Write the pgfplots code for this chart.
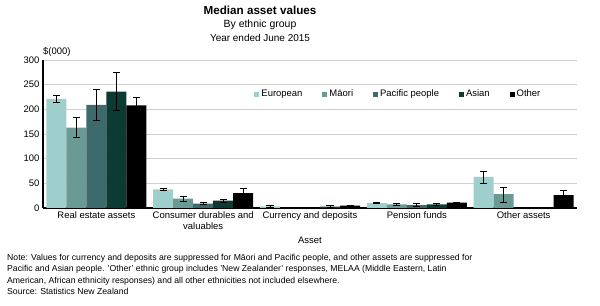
\documentclass[border=0pt]{standalone}
\usepackage{pgfplots}
\pgfplotsset{compat=1.18}
\usepackage{fontspec}
\setmainfont{Liberation Sans}

\definecolor{european}{HTML}{9FCFCC}
\definecolor{maori}{HTML}{6B9A95}
\definecolor{pacific}{HTML}{3D6B6B}
\definecolor{asian}{HTML}{0B3B33}
\definecolor{otherc}{HTML}{000000}
\definecolor{gridc}{HTML}{D0D0D0}

\begin{document}
\begin{tikzpicture}
\path (0,0) rectangle (600bp,306bp);

% titles
\node[font=\bfseries\fontsize{11.7}{12}\selectfont] at (260bp,296bp) {Median asset values};
\node[font=\fontsize{10.5}{11}\selectfont] at (260bp,281bp) {By ethnic group};
\node[font=\fontsize{10}{11}\selectfont] at (260bp,268bp) {Year ended June 2015};
\node[anchor=west, inner sep=0pt, font=\fontsize{9.5}{10}\selectfont] at (43bp,254bp) {\$(000)};

\begin{axis}[
    at={(43bp,98bp)}, anchor=south west,
    scale only axis, width=534bp, height=148bp,
    xmin=-0.5, xmax=4.5, ymin=0, ymax=300,
    ytick={0,50,...,300},
    xtick={0,...,4},
    xticklabels={Real estate assets, {Consumer durables and\\valuables}, Currency and deposits, Pension funds, Other assets},
    x tick label style={align=center, font=\fontsize{9.5}{11}\selectfont},
    y tick label style={font=\fontsize{9.5}{10}\selectfont},
    /pgf/number format/assume math mode=true,
    major tick length=0pt,
    axis lines*=left,
    axis line style={line width=1.5bp, black},
    ymajorgrids, grid style={gridc, line width=0.6bp},
    ybar=0pt, bar width=20bp,
    every axis plot/.append style={draw=none},
    error bars/y dir=both, error bars/y explicit,
    error bars/error bar style={black, line width=0.8bp},
    error bars/error mark options={rotate=90, mark size=3.5bp, black, line width=0.8bp},
    legend columns=5,
    legend style={draw=none, fill=none, at={(0.39,0.77)}, anchor=west,
        font=\fontsize{9.5}{10}\selectfont,
        /tikz/every even column/.append style={column sep=18bp}},
    legend image code/.code={\fill[#1] (0bp,-2.5bp) rectangle (5bp,2.5bp);},
]
\addplot[fill=european] coordinates {
    (0,221) += (0,8) -= (0,7)
    (1,38) += (0,2.5) -= (0,2.5)
    (2,3.5) += (0,1.3) -= (0,1.3)
    (3,10) += (0,1) -= (0,1)
    (4,63) += (0,12) -= (0,13)
};
\addplot[fill=maori] coordinates {
    (0,163) += (0,20) -= (0,20.5)
    (1,19) += (0,4) -= (0,5)
    (3,7.5) += (0,2) -= (0,2)
    (4,28) += (0,14) -= (0,16)
};
\addplot[fill=pacific] coordinates {
    (0,209) += (0,31) -= (0,32)
    (1,9) += (0,2) -= (0,2)
    (3,6) += (0,2.5) -= (0,2)
};
\addplot[fill=asian] coordinates {
    (0,236) += (0,39) -= (0,38)
    (1,15) += (0,3) -= (0,3.5)
    (2,3) += (0,1.5) -= (0,1.5)
    (3,7.5) += (0,2) -= (0,2)
};
\addplot[fill=otherc] coordinates {
    (0,208) += (0,17) -= (0,18)
    (1,30) += (0,9) -= (0,8)
    (2,4.8) += (0,1) -= (0,1)
    (3,11) += (0,1) -= (0,1)
    (4,26) += (0,10) -= (0,9)
};
\legend{European, Māori, Pacific people, Asian, Other}
\end{axis}

\node[font=\fontsize{9.5}{10}\selectfont] at (310bp,66bp) {Asset};
\node[anchor=north west, inner sep=0pt, align=left, font=\fontsize{8.7}{11.5}\selectfont] at (7bp,52bp) {%
Note: Values for currency and deposits are suppressed for Māori and Pacific people, and other assets are suppressed for\\
Pacific and Asian people. 'Other' ethnic group includes 'New Zealander' responses, MELAA (Middle Eastern, Latin\\
American, African ethnicity responses) and all other ethnicities not included elsewhere.\\
Source: Statistics New Zealand};
\end{tikzpicture}
\end{document}
